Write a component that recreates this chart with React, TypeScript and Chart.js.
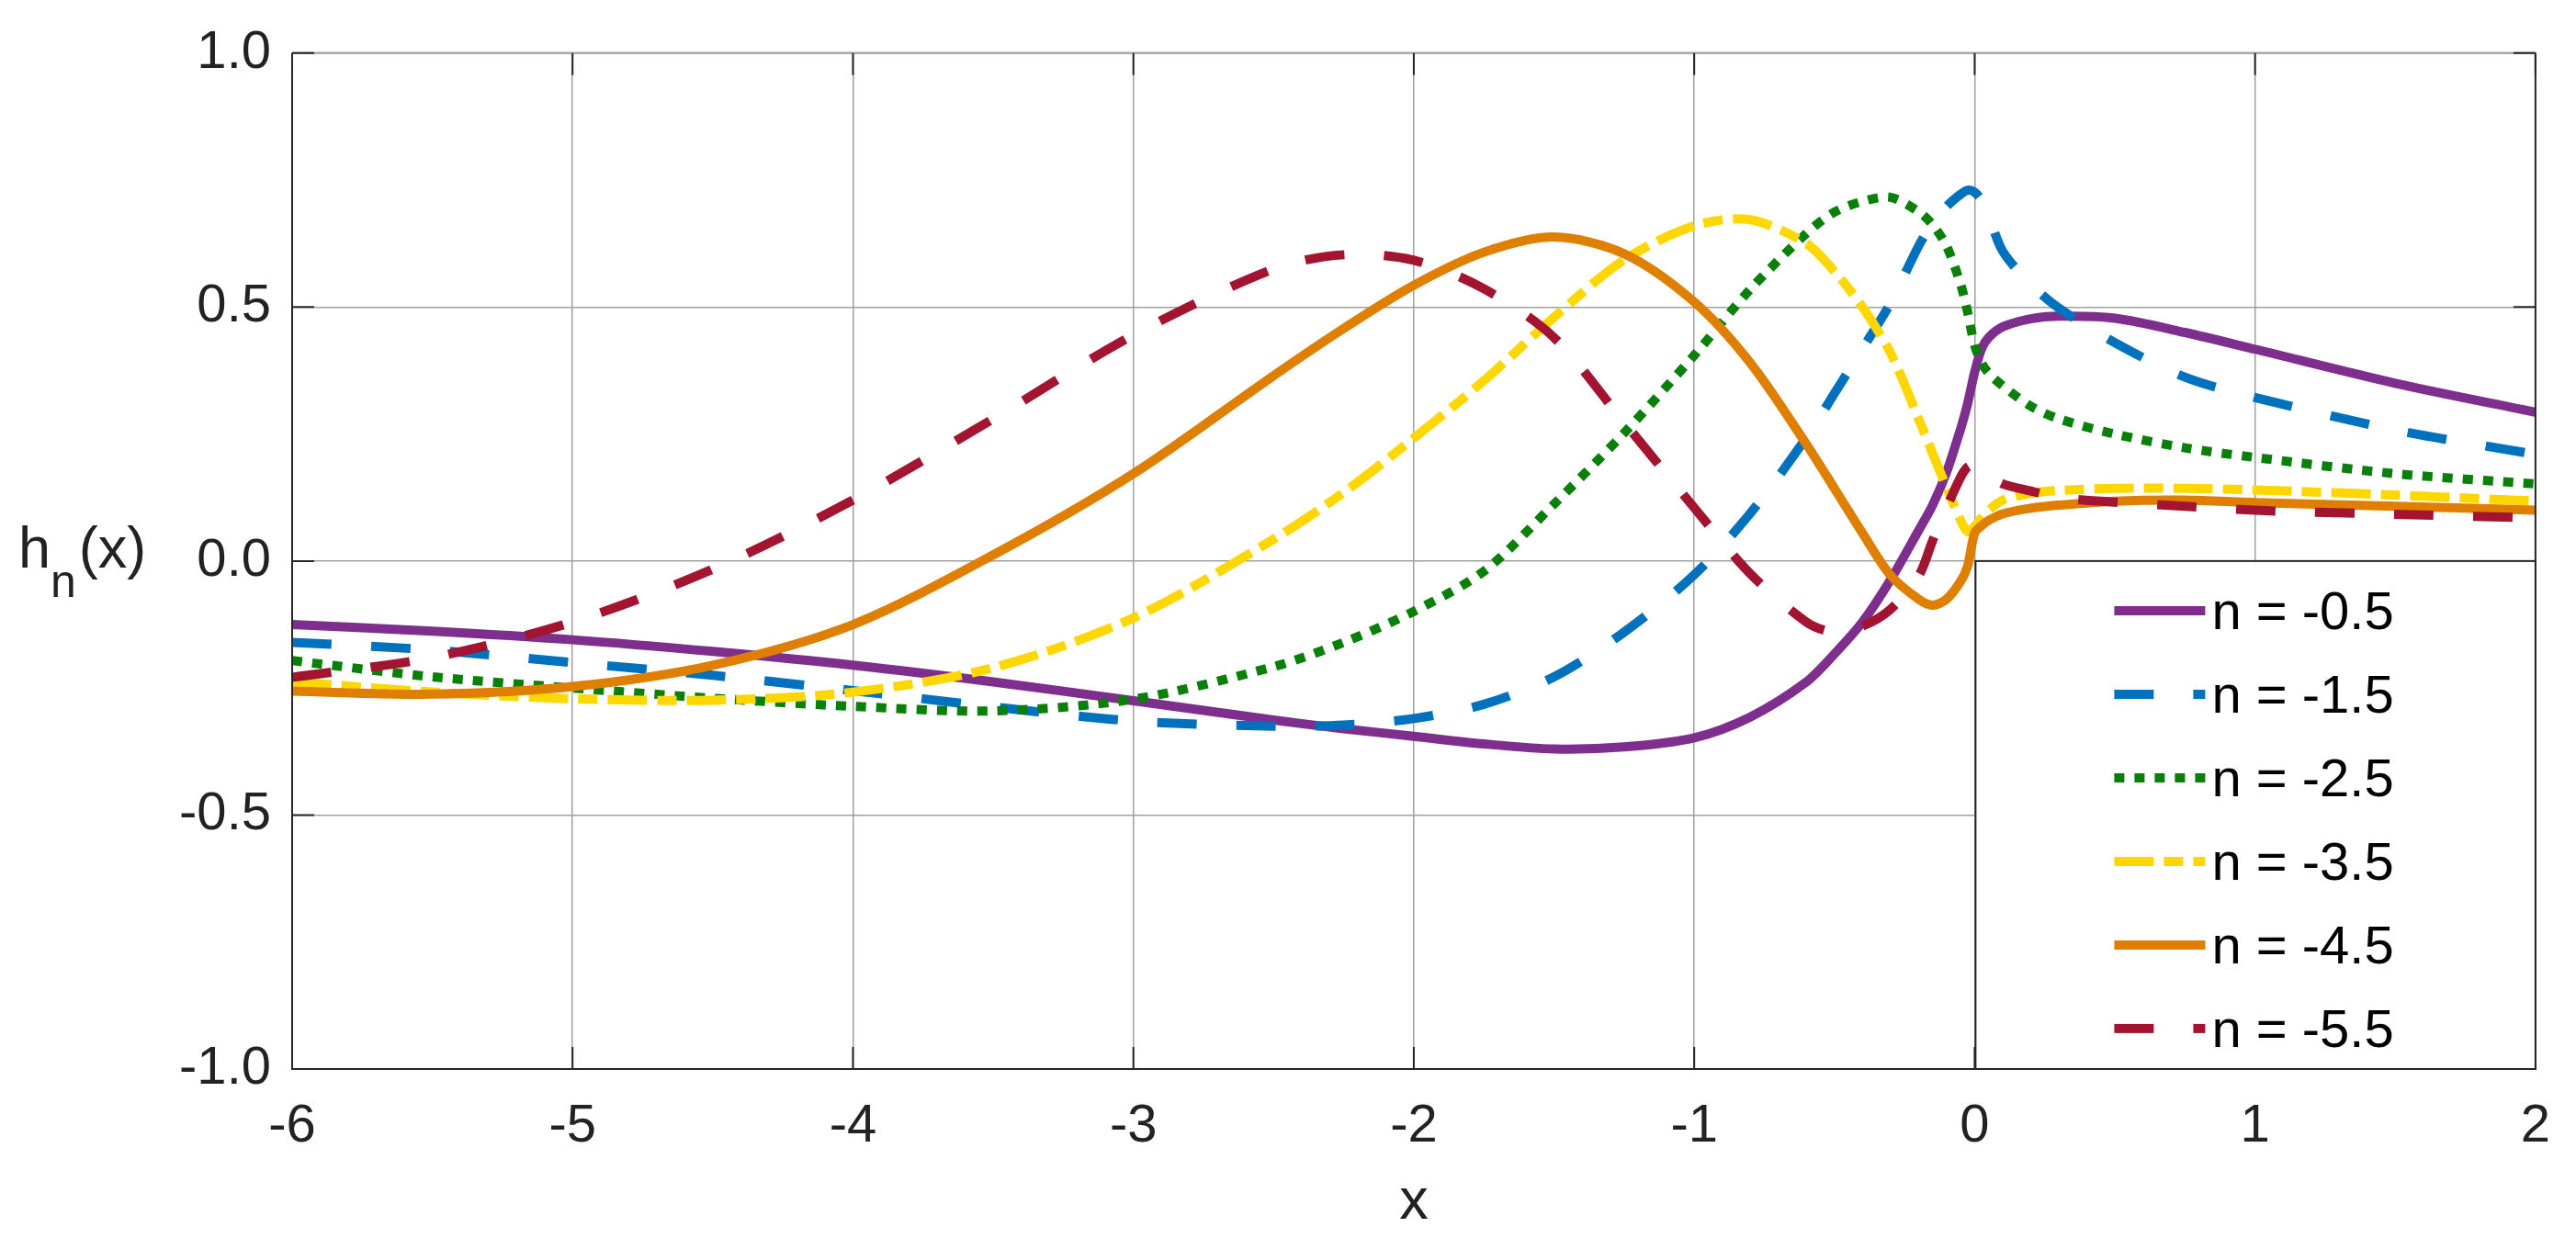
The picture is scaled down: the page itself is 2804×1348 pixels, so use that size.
import React, { useEffect, useRef } from 'react';
import { Chart, registerables } from 'chart.js';

Chart.register(...registerables);

// ---------- data ----------
const X = [-6, -5.5, -5, -4.5, -4, -3.5, -3, -2.5, -2.25, -2, -1.75, -1.5, -1.25, -1, -0.8, -0.6, -0.5, -0.4, -0.3, -0.2, -0.15, -0.1, -0.05, -0.025, 0, 0.025, 0.05, 0.1, 0.2, 0.3, 0.5, 0.75, 1, 1.5, 2];

const H_N05 = [-0.125, -0.138, -0.155, -0.178, -0.205, -0.238, -0.275, -0.313, -0.33, -0.345, -0.36, -0.37, -0.366, -0.348, -0.307, -0.238, -0.183, -0.12, -0.037, 0.06, 0.11, 0.175, 0.26, 0.31, 0.372, 0.418, 0.44, 0.461, 0.477, 0.482, 0.478, 0.45, 0.417, 0.35, 0.293];
const H_N15 = [-0.16, -0.175, -0.2, -0.225, -0.255, -0.287, -0.315, -0.325, -0.323, -0.31, -0.282, -0.228, -0.14, -0.027, 0.094, 0.243, 0.33, 0.418, 0.508, 0.62, 0.665, 0.698, 0.722, 0.73, 0.726, 0.71, 0.68, 0.61, 0.545, 0.498, 0.43, 0.362, 0.322, 0.258, 0.21];
const H_N25 = [-0.196, -0.228, -0.25, -0.27, -0.286, -0.295, -0.272, -0.208, -0.16, -0.099, -0.02, 0.112, 0.252, 0.405, 0.535, 0.645, 0.687, 0.708, 0.716, 0.688, 0.662, 0.62, 0.545, 0.49, 0.425, 0.39, 0.37, 0.345, 0.305, 0.28, 0.25, 0.223, 0.204, 0.172, 0.152];
const H_N35 = [-0.238, -0.258, -0.271, -0.274, -0.258, -0.21, -0.112, 0.043, 0.135, 0.242, 0.355, 0.48, 0.593, 0.66, 0.672, 0.625, 0.57, 0.5, 0.41, 0.28, 0.212, 0.145, 0.08, 0.058, 0.068, 0.085, 0.1, 0.12, 0.133, 0.139, 0.143, 0.143, 0.14, 0.13, 0.118];
const H_N45 = [-0.256, -0.262, -0.247, -0.205, -0.125, 0.012, 0.172, 0.365, 0.458, 0.543, 0.608, 0.638, 0.605, 0.51, 0.39, 0.23, 0.143, 0.055, -0.028, -0.075, -0.087, -0.075, -0.04, -0.01, 0.055, 0.07, 0.08, 0.093, 0.104, 0.11, 0.118, 0.12, 0.115, 0.108, 0.1];
const H_N55 = [-0.229, -0.19, -0.12, -0.016, 0.12, 0.28, 0.445, 0.575, 0.603, 0.592, 0.536, 0.44, 0.273, 0.105, -0.025, -0.12, -0.14, -0.128, -0.095, -0.03, 0.04, 0.105, 0.165, 0.185, 0.19, 0.185, 0.17, 0.152, 0.138, 0.125, 0.116, 0.108, 0.1, 0.092, 0.085];

const SERIES = [H_N05, H_N15, H_N25, H_N35, H_N45, H_N55];
const LABELS = ['n = -0.5', 'n = -1.5', 'n = -2.5', 'n = -3.5', 'n = -4.5', 'n = -5.5'];
const X_TICKS = [-6, -5, -4, -3, -2, -1, 0, 1, 2];
const Y_TICKS = [-1, -0.5, 0, 0.5, 1];

// ---------- styles ----------
const COLORS = ['#7E2F8E', '#0072BD', '#0A800A', '#FFD700', '#DE7F00', '#A2142F'];
const DASHES: number[][] = [[], [43, 43], [11, 11], [43, 11, 21, 11], [], [43, 43]];
const LINE_W = 10;
const FONT = '"Liberation Sans", Arial, Helvetica, sans-serif';
const TEXT = '#222222';

const framePlugin = {
  id: 'frame',
  beforeDraw(chart: any) {
    const { ctx, width, height } = chart;
    ctx.save();
    ctx.fillStyle = '#ffffff';
    ctx.fillRect(0, 0, width, height);
    ctx.restore();
  },
  afterDatasetsDraw(chart: any) {
    const { ctx, chartArea, scales } = chart;
    const { left, right, top, bottom } = chartArea;
    const xs = scales.x;
    const ys = scales.y;
    ctx.save();
    // box
    ctx.lineCap = 'butt';
    ctx.lineWidth = 2.5;
    ctx.strokeStyle = '#a8a8a8';
    ctx.beginPath();
    ctx.moveTo(left, top);
    ctx.lineTo(right, top);
    ctx.stroke();
    ctx.lineWidth = 2;
    ctx.strokeStyle = '#262626';
    ctx.beginPath();
    ctx.moveTo(left, top);
    ctx.lineTo(left, bottom);
    ctx.lineTo(right, bottom);
    ctx.lineTo(right, top);
    ctx.stroke();
    // inward ticks
    const TL = 24;
    ctx.beginPath();
    X_TICKS.forEach((v) => {
      const p = xs.getPixelForValue(v);
      ctx.moveTo(p, bottom);
      ctx.lineTo(p, bottom - TL);
      ctx.moveTo(p, top);
      ctx.lineTo(p, top + TL);
    });
    Y_TICKS.forEach((v) => {
      const p = ys.getPixelForValue(v);
      ctx.moveTo(left, p);
      ctx.lineTo(left + TL, p);
      ctx.moveTo(right, p);
      ctx.lineTo(right - TL, p);
    });
    ctx.stroke();

    // legend
    const lx = xs.getPixelForValue(0) + 1;
    const ly = ys.getPixelForValue(0);
    const lr = right;
    const lb = bottom;
    ctx.fillStyle = '#ffffff';
    ctx.fillRect(lx, ly, lr - lx, lb - ly);
    ctx.lineWidth = 2;
    ctx.strokeStyle = '#262626';
    ctx.strokeRect(lx, ly, lr - lx, lb - ly);
    const rowH = 91;
    const first = ly + 54;
    ctx.font = `58px ${FONT}`;
    ctx.textBaseline = 'middle';
    ctx.textAlign = 'left';
    LABELS.forEach((lab, i) => {
      const cy = first + i * rowH;
      ctx.save();
      ctx.strokeStyle = COLORS[i];
      ctx.lineWidth = LINE_W;
      ctx.lineCap = 'butt';
      ctx.setLineDash(DASHES[i]);
      ctx.beginPath();
      ctx.moveTo(lx + 151, cy);
      ctx.lineTo(lx + 250, cy);
      ctx.stroke();
      ctx.restore();
      ctx.fillStyle = '#000000';
      ctx.fillText(lab, lx + 257, cy + 4);
    });
    ctx.restore();
  },
  afterDraw(chart: any) {
    const { ctx, chartArea } = chart;
    ctx.save();
    ctx.fillStyle = TEXT;
    ctx.textBaseline = 'alphabetic';
    ctx.textAlign = 'left';
    // y label h_n(x)
    ctx.font = `63px ${FONT}`;
    const hx = 20;
    ctx.fillText('h', hx, 618);
    const hw = ctx.measureText('h').width;
    ctx.font = `50px ${FONT}`;
    ctx.fillText('n', hx + hw, 650);
    const nw = ctx.measureText('n').width;
    ctx.font = `63px ${FONT}`;
    ctx.fillText('(x)', hx + hw + nw + 3, 618);
    // x label
    ctx.textAlign = 'center';
    ctx.fillText('x', (chartArea.left + chartArea.right) / 2, 1327);
    ctx.restore();
  },
};

export default function App() {
  const ref = useRef<HTMLCanvasElement | null>(null);
  useEffect(() => {
    document.body.style.margin = '0';
    const canvas = ref.current;
    if (!canvas) return;
    const datasets = SERIES.map((s, i) => ({
      label: LABELS[i],
      data: X.map((x, j) => ({ x, y: s[j] })),
      borderColor: COLORS[i],
      backgroundColor: COLORS[i],
      borderWidth: LINE_W,
      borderDash: DASHES[i],
      borderCapStyle: 'butt' as const,
      borderJoinStyle: 'round' as const,
      pointRadius: 0,
      pointHoverRadius: 0,
      tension: 0.3,
      fill: false,
      order: SERIES.length - i,
    }));
    const chart = new Chart(canvas, {
      type: 'line',
      data: { datasets },
      options: {
        animation: false,
        responsive: false,
        devicePixelRatio: 1,
        events: [],
        layout: { padding: { top: 43, right: 41, left: 0, bottom: 0 } },
        plugins: {
          legend: { display: false },
          tooltip: { enabled: false },
          title: { display: false },
        },
        scales: {
          x: {
            type: 'linear',
            min: -6,
            max: 2,
            afterBuildTicks: (s: any) => {
              s.ticks = X_TICKS.map((v) => ({ value: v }));
            },
            ticks: {
              font: { size: 58, family: FONT },
              color: TEXT,
              padding: 28,
              maxRotation: 0,
              autoSkip: false,
              callback: (v: any) => String(v),
            },
            grid: { color: '#a0a0a0', lineWidth: 1.5, drawTicks: false },
            border: { display: false },
            afterFit: (s: any) => {
              s.height = 184;
            },
          },
          y: {
            type: 'linear',
            min: -1,
            max: 1,
            afterBuildTicks: (s: any) => {
              s.ticks = Y_TICKS.map((v) => ({ value: v }));
            },
            ticks: {
              font: { size: 58, family: FONT },
              color: TEXT,
              padding: 23,
              autoSkip: false,
              callback: (v: any) => Number(v).toFixed(1),
            },
            grid: { color: '#a0a0a0', lineWidth: 1.5, drawTicks: false },
            border: { display: false },
            afterFit: (s: any) => {
              s.width = 318;
            },
          },
        },
      },
      plugins: [framePlugin],
    });
    return () => chart.destroy();
  }, []);
  return (
    <div style={{ width: 2804, height: 1348 }}>
      <canvas ref={ref} width={2804} height={1348} style={{ display: 'block' }} />
    </div>
  );
}
